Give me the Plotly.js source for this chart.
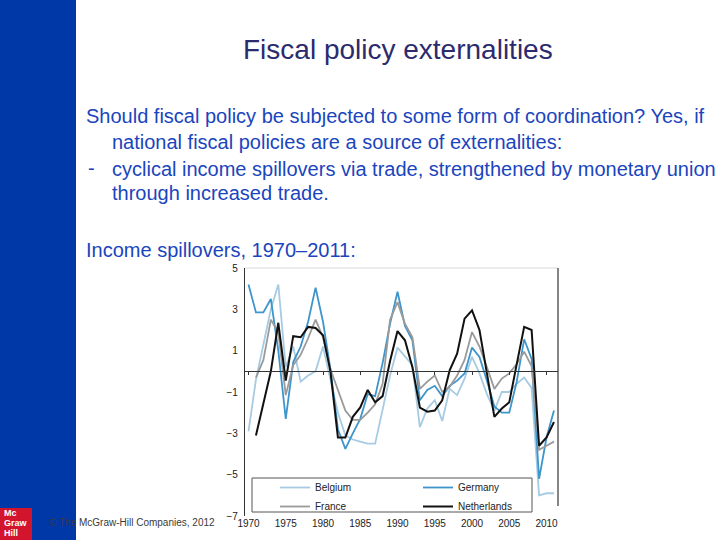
<!DOCTYPE html>
<html>
<head>
<meta charset="utf-8">
<script src="https://cdn.plot.ly/plotly-3.0.1.min.js"></script>
<style>
  html, body { margin: 0; padding: 0; background: #ffffff; }
  #chart { width: 720px; height: 540px; }
</style>
</head>
<body>
<div id="chart"></div>
<script>
// Income spillovers, 1970–2011 (percentage points)
const years = [];
for (let y = 1970; y <= 2011; y++) years.push(y);

const belgium = [
  -2.9, -0.4, 1.3, 3.0, 4.2, 0.2, 1.2, -0.5, -0.2, 0.0,
  1.2, -0.4, -2.0, -3.1, -3.3, -3.4, -3.5, -3.5, -1.8, -0.2,
  1.15, 0.7, 0.3, -2.7, -1.8, -1.4, -2.4, -0.85, -1.15, -0.35,
  0.7, -0.1, -1.1, -1.9, -1.0, -1.0, -0.6, -0.3, -0.8, -6.0,
  -5.9, -5.9
];
const germany = [
  4.2, 2.85, 2.85, 3.5, 1.0, -2.3, 0.45, 1.2, 2.4, 4.05,
  2.4, 0.1, -2.8, -3.75, -3.0, -2.3, -1.1, -1.2, 0.4, 2.3,
  3.85, 2.2, 1.5, -1.4, -0.9, -0.7, -1.2, -0.7, -0.45, -0.1,
  1.15, 0.7, -0.45, -1.7, -2.0, -2.0, -0.5, 1.55, 0.6, -5.2,
  -3.2, -1.9
];
const france = [
  null, -0.3, 0.55, 2.5, 1.9, -1.15, 0.3, 0.8, 1.6, 2.5,
  1.65, 0.1, -0.9, -1.9, -2.35, -2.35, -2.0, -1.6, -0.6, 2.5,
  3.35, 2.3, 1.65, -0.85, -0.5, -0.2, -1.0, -0.75, -0.2, 0.55,
  1.9, 1.2, 0.2, -0.85, -0.35, -0.1, 0.35, 0.95, 0.25, -3.8,
  -3.6, -3.4
];
const netherlands = [
  null, -3.1, -1.6, 0.0, 2.35, -0.45, 1.7, 1.65, 2.15, 2.1,
  1.75, 0.0, -3.2, -3.2, -2.2, -1.75, -0.9, -1.5, -1.2, 0.5,
  1.95, 1.5, 0.2, -1.75, -1.95, -1.9, -1.4, 0.05, 0.85, 2.55,
  2.95, 2.0, -0.1, -2.2, -1.8, -1.5, 0.35, 2.15, 2.0, -3.6,
  -3.2, -2.45
];

const xTicks = [1970, 1975, 1980, 1985, 1990, 1995, 2000, 2005, 2010];
const yTicks = [5, 3, 1, -1, -3, -5, -7];

const titleText = "Fiscal policy externalities";
const bodyLines = [
  "Should fiscal policy be subjected to some form of coordination? Yes, if",
  "national fiscal policies are a source of externalities:",
  "cyclical income spillovers via trade, strengthened by monetary union",
  "through increased trade."
];
const chartCaption = "Income spillovers, 1970–2011:";
const copyright = "© The McGraw-Hill Companies, 2012";

// page geometry helpers (pixel -> paper fraction)
const W = 720, H = 540;
const px = v => v / W;
const py = v => 1 - v / H;

const FONT = "Liberation Sans, Arial, sans-serif";
const BODY_BLUE = "#1a45bd";

function series(name, ys, color, width, legendId) {
  return {
    type: "scatter", mode: "lines", name: name,
    x: years, y: ys,
    line: { color: color, width: width },
    connectgaps: false,
    legend: legendId
  };
}

// two legend columns: Belgium/France on the left, Germany/Netherlands on the right
const traces = [
  series("Belgium", belgium, "#a6cbe3", 1.8, "legend"),
  series("Germany", germany, "#3d95cc", 1.8, "legend2"),
  series("France", france, "#9a9a9a", 1.8, "legend"),
  series("Netherlands", netherlands, "#111111", 2.0, "legend2")
];

const bodyFont = { family: FONT, size: 20, color: BODY_BLUE };

const annotations = [
  { text: titleText, x: px(398), y: py(50), xanchor: "center", yanchor: "middle",
    font: { family: FONT, size: 28, color: "#2b2b6e" } },
  { text: bodyLines[0], x: px(84), y: py(116), xanchor: "left", yanchor: "middle", font: bodyFont },
  { text: bodyLines[1], x: px(110), y: py(142), xanchor: "left", yanchor: "middle", font: bodyFont },
  { text: "-", x: px(86), y: py(168), xanchor: "left", yanchor: "middle", font: bodyFont },
  { text: bodyLines[2], x: px(110), y: py(169), xanchor: "left", yanchor: "middle", font: bodyFont },
  { text: bodyLines[3], x: px(110), y: py(193), xanchor: "left", yanchor: "middle", font: bodyFont },
  { text: chartCaption, x: px(84), y: py(250), xanchor: "left", yanchor: "middle", font: bodyFont },
  { text: copyright, x: px(47), y: py(522), xanchor: "left", yanchor: "middle",
    font: { family: FONT, size: 10, color: "#3a3a3a" } },
  // publisher mark
  { text: "<b>Mc</b>", x: px(2), y: py(513), xanchor: "left", yanchor: "middle",
    font: { family: FONT, size: 9, color: "#ffffff" } },
  { text: "<b>Graw</b>", x: px(2), y: py(523), xanchor: "left", yanchor: "middle",
    font: { family: FONT, size: 9, color: "#ffffff" } },
  { text: "<b>Hill</b>", x: px(2), y: py(533), xanchor: "left", yanchor: "middle",
    font: { family: FONT, size: 9, color: "#ffffff" } }
].map(a => Object.assign({ xref: "paper", yref: "paper", showarrow: false }, a));

const shapes = [
  // left band
  { type: "rect", xref: "paper", yref: "paper", x0: 0, x1: px(76), y0: 0, y1: 1,
    fillcolor: "#0038a8", line: { width: 0 }, layer: "below" },
  // publisher mark block
  { type: "rect", xref: "paper", yref: "paper", x0: 0, x1: px(32), y0: 0, y1: py(508),
    fillcolor: "#d2142c", line: { width: 0 }, layer: "below" },
  // chart frame: light top edge, dark right edge
  { type: "line", xref: "x domain", yref: "y domain", x0: 0, x1: 1, y0: 1, y1: 1,
    line: { color: "#d8d8d8", width: 1 } },
  { type: "line", xref: "x domain", yref: "y domain", x0: 1, x1: 1, y0: 0.04, y1: 1,
    line: { color: "#333333", width: 1.2 } },
  // legend box
  { type: "rect", xref: "paper", yref: "paper", x0: px(252), x1: px(532), y0: py(512), y1: py(478),
    fillcolor: "#ffffff", line: { color: "#555555", width: 1 }, layer: "below" }
];

const legendBase = {
  orientation: "v", yanchor: "top", xanchor: "left",
  bgcolor: "rgba(0,0,0,0)", borderwidth: 0,
  font: { family: FONT, size: 10, color: "#222222" },
  traceorder: "normal"
};

const layout = {
  width: W, height: H,
  margin: { l: 0, r: 0, t: 0, b: 0 },
  paper_bgcolor: "#ffffff",
  plot_bgcolor: "rgba(0,0,0,0)",
  showlegend: true,
  font: { family: FONT, size: 10, color: "#222222" },
  xaxis: {
    domain: [px(245), px(558)],
    range: [1969.53, 2011.54],
    tickvals: xTicks, ticktext: xTicks.map(String),
    showgrid: false, zeroline: false, showline: false, ticks: "",
    tickfont: { family: FONT, size: 10, color: "#222222" }
  },
  // horizontal axis drawn through zero with small tick marks
  xaxis2: {
    overlaying: "x", anchor: "free",
    position: py(371),
    range: [1969.53, 2011.54],
    tickvals: xTicks, showticklabels: false,
    ticks: "outside", ticklen: 3, tickcolor: "#333333", tickwidth: 1,
    showline: true, linecolor: "#333333", linewidth: 1,
    showgrid: false, zeroline: false
  },
  yaxis: {
    domain: [py(516), py(268)],
    range: [-7, 5],
    tickvals: yTicks,
    showgrid: false, zeroline: false,
    showline: true, linecolor: "#333333", linewidth: 1.2,
    ticks: "", ticklabelstandoff: 4,
    tickfont: { family: FONT, size: 10, color: "#222222" }
  },
  legend: Object.assign({}, legendBase, { x: px(275), y: py(473) }),
  legend2: Object.assign({}, legendBase, { x: px(418), y: py(473) }),
  annotations: annotations,
  shapes: shapes
};

// an invisible trace binds the zero-line axis so it is drawn
traces.push({
  type: "scatter", mode: "lines", x: [years[0]], y: [0], xaxis: "x2",
  showlegend: false, hoverinfo: "skip", line: { width: 0 }
});

Plotly.newPlot("chart", traces, layout, { displayModeBar: false, staticPlot: true });
</script>
</body>
</html>
